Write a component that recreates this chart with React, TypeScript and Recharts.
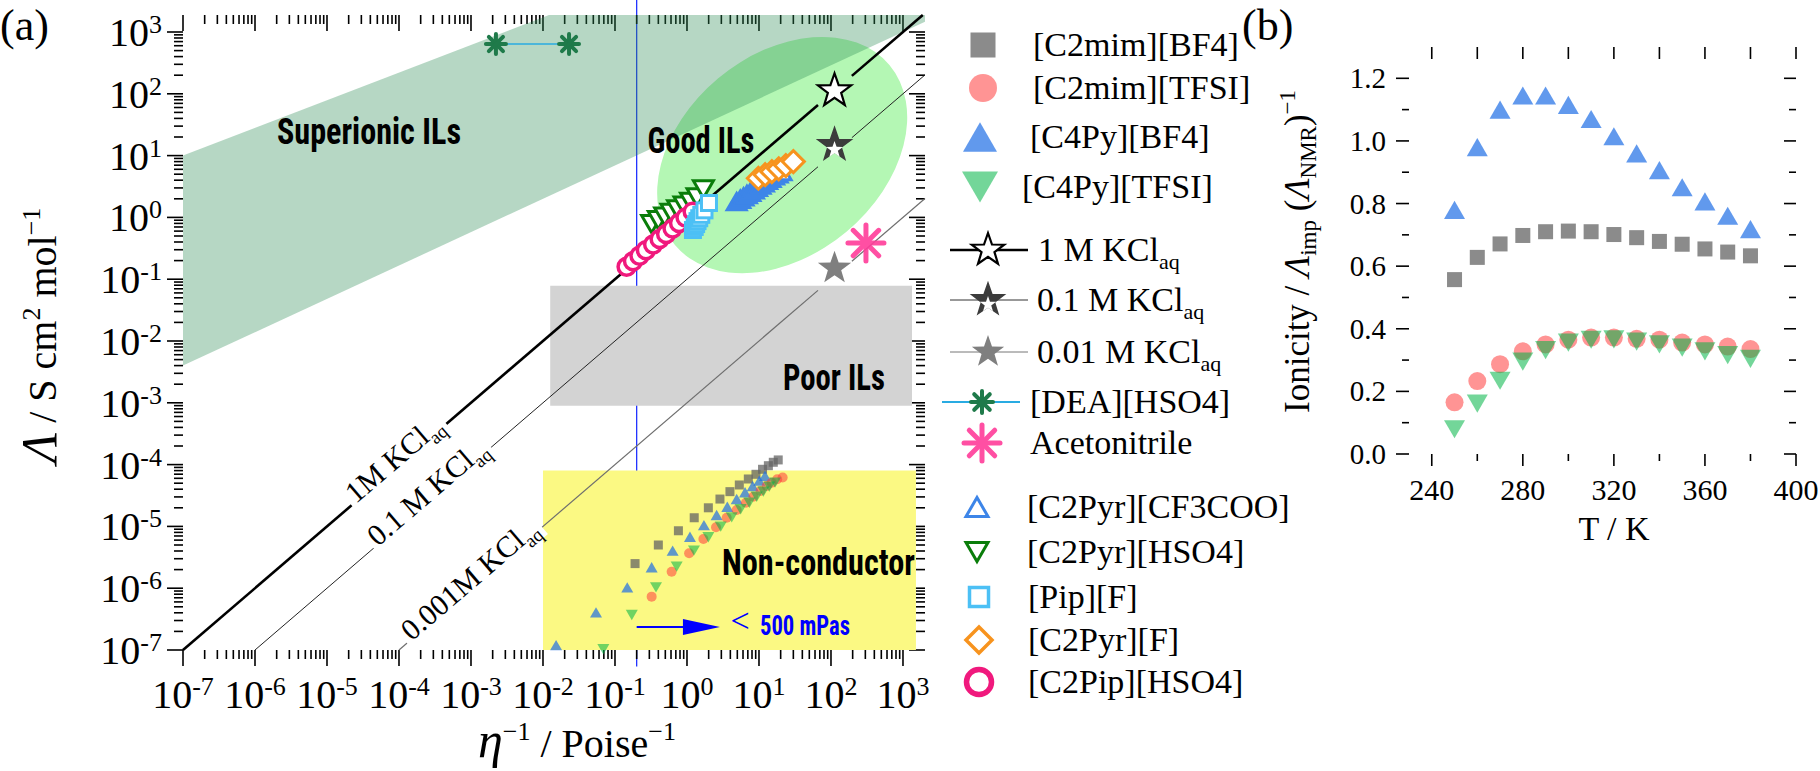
import React from 'react';
import { ComposedChart, Scatter, XAxis, YAxis, ReferenceLine } from 'recharts';

const SERIF = "'Liberation Serif', 'Times New Roman', Times, serif";
const COND = "'Roboto Condensed', 'Liberation Sans Narrow', 'DejaVu Sans Condensed', Roboto, sans-serif";

// ---------------- (a) Walden plot ----------------
const X_MIN = 1e-7;
const X_MAX = 2022;
const Y_MIN = 1e-7;
const Y_MAX = 1884;
const DECADES = [-7, -6, -5, -4, -3, -2, -1, 0, 1, 2, 3];
const MANTISSAS = [1, 2, 3, 4, 5, 6, 7, 8, 9];

// filled symbols: ILs in the non-conductor zone
const C2MIM_BF4_X = [0.19, 0.40, 0.76, 1.26, 1.98, 2.87, 3.95, 5.33, 7.11, 9.08, 11.2, 13.5, 15.8, 18.5];
const C2MIM_BF4_Y = [2.5e-6, 5.0e-6, 8.5e-6, 1.38e-5, 2.0e-5, 2.77e-5, 3.65e-5, 4.68e-5, 5.85e-5, 6.97e-5, 8.4e-5, 9.6e-5, 1.09e-4, 1.19e-4];
const C4PY_BF4_X = [0.0152, 0.0545, 0.148, 0.323, 0.632, 1.10, 1.72, 2.58, 3.63, 4.90, 6.40, 8.17, 10.1, 12.1];
const C4PY_BF4_Y = [1.2e-7, 4.07e-7, 1.03e-6, 2.18e-6, 4.05e-6, 6.8e-6, 1.05e-5, 1.53e-5, 2.08e-5, 2.77e-5, 3.56e-5, 4.5e-5, 5.5e-5, 6.6e-5];
const C2MIM_TFSI_X = [0.323, 0.612, 1.07, 1.69, 2.53, 3.56, 4.90, 6.59, 8.34, 10.5, 12.8, 15.0, 17.9, 21.3];
const C2MIM_TFSI_Y = [7.3e-7, 1.85e-6, 3.67e-6, 6.25e-6, 9.66e-6, 1.38e-5, 1.84e-5, 2.42e-5, 3.02e-5, 3.74e-5, 4.5e-5, 5.1e-5, 5.8e-5, 6.2e-5];
const C4PY_TFSI_X = [0.0689, 0.171, 0.371, 0.719, 1.25, 1.98, 2.94, 4.18, 5.56, 7.35, 9.29, 11.5, 13.9, 16.7];
const C4PY_TFSI_Y = [1.03e-7, 3.68e-7, 1.03e-6, 2.23e-6, 4.05e-6, 6.67e-6, 9.9e-6, 1.40e-5, 1.89e-5, 2.42e-5, 3.02e-5, 3.65e-5, 4.4e-5, 5.1e-5];

// open symbols: good ILs
const C2PIP_HSO4_X = [0.145, 0.178, 0.219, 0.269, 0.339, 0.417, 0.513, 0.631, 0.776, 0.955, 1.20];
const C2PIP_HSO4_Y = [0.159, 0.195, 0.240, 0.295, 0.363, 0.447, 0.537, 0.661, 0.813, 1.0, 1.24];
const C2PYR_HSO4_X = [0.323, 0.40, 0.49, 0.60, 0.74, 0.91, 1.12, 1.38, 1.69];
const C2PYR_HSO4_Y = [0.78, 0.90, 1.03, 1.18, 1.35, 1.55, 1.78, 2.1, 2.85];
const PIP_F_X = [1.21, 1.28, 1.34, 1.40, 1.48, 1.58, 1.75, 2.02];
const PIP_F_Y = [0.625, 0.70, 0.78, 0.87, 0.97, 1.10, 1.30, 1.71];
const C2PYR_CF3COO_X = [4.9, 5.5, 6.1, 6.8, 7.6, 8.5, 9.4, 10.5, 11.7, 13.0, 14.5, 16.2, 18.2, 20.6];
const C2PYR_CF3COO_Y = [1.8, 1.97, 2.15, 2.35, 2.56, 2.8, 3.06, 3.33, 3.63, 3.97, 4.3, 4.7, 5.1, 5.5];
const C2PYR_F_X = [9.8, 12.2, 15.1, 18.8, 23.6, 30];
const C2PYR_F_Y = [4.3, 4.9, 5.5, 6.1, 6.9, 8.0];

// reference liquids
const KCL_1M = [{ x: 112, y: 112 }];
const KCL_01M = [{ x: 112, y: 14.8 }];
const KCL_001M = [{ x: 112, y: 0.151 }];
const ACETONITRILE = [{ x: 306, y: 0.385 }];
const DEA_HSO4_X = [0.00222, 0.023];
const DEA_HSO4_Y = [640, 640];

// KCl(aq) ideal lines, split where the reference stars sit
const LINE_1M = [[{ x: 1e-7, y: 1e-7 }, { x: 66, y: 66 }], [{ x: 195, y: 195 }, { x: 1884, y: 1884 }]];
const LINE_01M = [[{ x: 1e-6, y: 1e-7 }, { x: 66, y: 6.6 }], [{ x: 195, y: 19.5 }, { x: 2022, y: 202.2 }]];
const LINE_0001M = [[{ x: 1e-4, y: 1e-7 }, { x: 66, y: 0.066 }], [{ x: 195, y: 0.195 }, { x: 2022, y: 2.022 }]];

// classification zones
const SUPERIONIC_BAND = [
  { x: 1e-7, y: 10 }, { x: 0.0121, y: 1884 }, { x: 2022, y: 1884 }, { x: 2022, y: 1462 }, { x: 1e-7, y: 4e-3 },
];
const POOR_BOX = { x1: 0.0126, x2: 1334, y1: 9e-4, y2: 0.078 };
const NONCOND_BOX = { x1: 0.01, x2: 1514, y1: 1e-7, y2: 8e-5 };
const GOOD_CENTER = [{ x: 21, y: 10.2 }];
const ETA_LIMIT = 0.2;
const ARROW_Y = 2.36e-7;

// ---------------- (b) ionicity ----------------
const T_MIN = 230;
const T_MAX = 400;
const I_MAX = 1.3;
const TEMPS = [250, 260, 270, 280, 290, 300, 310, 320, 330, 340, 350, 360, 370, 380];
const ION_C4PY_BF4 = [0.78, 0.98, 1.10, 1.145, 1.145, 1.115, 1.07, 1.015, 0.96, 0.907, 0.852, 0.807, 0.761, 0.718];
const ION_C2MIM_BF4 = [0.557, 0.628, 0.671, 0.698, 0.710, 0.712, 0.71, 0.701, 0.691, 0.679, 0.670, 0.655, 0.645, 0.633];
const ION_C2MIM_TFSI = [0.165, 0.233, 0.287, 0.328, 0.35, 0.365, 0.372, 0.372, 0.368, 0.365, 0.356, 0.35, 0.343, 0.335];
const ION_C4PY_TFSI = [0.079, 0.161, 0.234, 0.295, 0.332, 0.356, 0.365, 0.366, 0.359, 0.35, 0.34, 0.328, 0.316, 0.304];
const T_TICKS = [240, 260, 280, 300, 320, 340, 360, 380, 400];
const T_LABELS = [240, 280, 320, 360, 400];
const I_TICKS = [0, 0.1, 0.2, 0.3, 0.4, 0.5, 0.6, 0.7, 0.8, 0.9, 1.0, 1.1, 1.2];
const I_LABELS = [0, 0.2, 0.4, 0.6, 0.8, 1.0, 1.2];

const LOG_MAJOR = DECADES.map((e) => Math.pow(10, e));
const LOG_ALL = DECADES.flatMap((e) => MANTISSAS.map((m) => m * Math.pow(10, e))).filter((v) => v <= 1000.001);

// plot frames in page pixels; chart margins are derived from these
const CHART_A = { left: 0, width: 960, height: 771 };
const FRAME_A = { left: 183, right: 925, top: 15, bottom: 650 };
const CHART_B = { left: 1330, width: 490, height: 560 };
const FRAME_B = { left: 1409, right: 1796, top: 47, bottom: 454 };

const pairs = (xs: number[], ys: number[]) => xs.map((x, i) => ({ x, y: ys[i] }));
const tPairs = (vs: number[]) => TEMPS.map((T, i) => ({ T, v: vs[i] }));
const boxPts = (b: any) => [
  { x: b.x1, y: b.y1 }, { x: b.x2, y: b.y1 }, { x: b.x2, y: b.y2 }, { x: b.x1, y: b.y2 },
];

// symbol colours
const GRAY = { fill: '#646464', op: 0.75 };
const PINK = { fill: '#ff3c3c', op: 0.55 };
const BLUE = { fill: '#1e6ee6', op: 0.7 };
const GREEN = { fill: '#00b446', op: 0.55 };

const starPoints = (cx: number, cy: number, r: number) => {
  const pts: string[] = [];
  for (let i = 0; i < 10; i++) {
    const rad = i % 2 === 0 ? r : r * 0.4;
    const a = -Math.PI / 2 + (i * Math.PI) / 5;
    pts.push(`${cx + rad * Math.cos(a)},${cy + rad * Math.sin(a)}`);
  }
  return pts.join(' ');
};

const Mark = ({ kind, cx, cy, s, fill = 'none', stroke = 'none', sw = 0, op = 1 }: any) => {
  const h = s / 2;
  const st = { fill, stroke, strokeWidth: sw, opacity: op };
  const th = (s * 0.866) / 2;
  switch (kind) {
    case 'square':
      return <rect x={cx - h} y={cy - h} width={s} height={s} {...st} />;
    case 'circle':
      return <circle cx={cx} cy={cy} r={h} {...st} />;
    case 'tri':
      return <polygon points={`${cx},${cy - th} ${cx + h},${cy + th} ${cx - h},${cy + th}`} {...st} />;
    case 'dtri':
      return <polygon points={`${cx},${cy + th} ${cx + h},${cy - th} ${cx - h},${cy - th}`} {...st} />;
    case 'diamond':
      return <polygon points={`${cx},${cy - h} ${cx + h},${cy} ${cx},${cy + h} ${cx - h},${cy}`} {...st} />;
    case 'star':
      return <polygon points={starPoints(cx, cy, h)} {...st} strokeLinejoin="miter" />;
    case 'star2':
      return (
        <g>
          <polygon points={starPoints(cx, cy, h)} fill="#3c3c3c" stroke="#3c3c3c" strokeWidth={1.5} />
          <polygon points={starPoints(cx, cy + s * 0.13, h * 0.5)} fill="#fff" />
        </g>
      );
    case 'aster':
      return (
        <g stroke={stroke} strokeWidth={sw} opacity={op} strokeLinecap="round">
          {[0, 45, 90, 135].map((a) => {
            const r = (a * Math.PI) / 180;
            return (
              <line key={a} x1={cx - h * Math.cos(r)} y1={cy - h * Math.sin(r)} x2={cx + h * Math.cos(r)} y2={cy + h * Math.sin(r)} />
            );
          })}
        </g>
      );
    default:
      return null;
  }
};

const shapeOf = (kind: string, s: number, style: any) => (p: any) => (
  <Mark kind={kind} cx={p.cx} cy={p.cy} s={s} {...style} />
);
const NO_MARK = () => <g />;
const NO_TICK = () => <g />;
const fillPoly = (fill: string, op: number) => (p: any) => (
  <polygon points={p.points.map((q: any) => `${q.x},${q.y}`).join(' ')} fill={fill} fillOpacity={op} stroke="none" />
);

const isDecade = (v: number) => Math.abs(Math.log10(v) - Math.round(Math.log10(v))) < 1e-6;
const inList = (list: number[]) => (v: number) => list.some((m) => Math.abs(m - v) < 1e-9);

// Frame ticks come from reference lines: the shape receives the full-height
// (or full-width) line and keeps a short stub at each frame edge.
const vTick = (outLen: number, inLen: number) => (p: any) => {
  const bot = Math.max(p.y1, p.y2);
  const top = Math.min(p.y1, p.y2);
  return (
    <g stroke="#000" strokeWidth={1.6}>
      <line x1={p.x1} x2={p.x1} y1={bot} y2={bot + outLen} />
      <line x1={p.x1} x2={p.x1} y1={top} y2={top + inLen} />
    </g>
  );
};
const hTick = (outLen: number, inLen: number) => (p: any) => {
  const left = Math.min(p.x1, p.x2);
  const right = Math.max(p.x1, p.x2);
  return (
    <g stroke="#000" strokeWidth={1.6}>
      <line x1={left} x2={left - outLen} y1={p.y1} y2={p.y1} />
      <line x1={right} x2={right - inLen} y1={p.y1} y2={p.y1} />
    </g>
  );
};

const AXIS = { stroke: '#000', strokeWidth: 2 };

const noteShape = (text: string, w: number, size: number, color: string) => (p: any) => (
  <text
    x={p.cx}
    y={p.cy + size * 0.355}
    textAnchor="middle"
    fontFamily={COND}
    fontWeight={700}
    fontSize={size}
    fill={color}
    textLength={w}
    lengthAdjust="spacingAndGlyphs"
  >
    {text}
  </text>
);

// rotated line label with a white backing box
const lineLabel = (main: string, w: number) => (p: any) => (
  <g transform={`rotate(-40.6 ${p.cx} ${p.cy})`}>
    <rect x={p.cx - w / 2 - 4} y={p.cy - 24} width={w + 8} height={33} fill="#fff" />
    <text x={p.cx} y={p.cy + 2} textAnchor="middle" fontFamily={SERIF} fontSize={30} fill="#000">
      {main}
      <tspan dy={7} fontSize={19}>aq</tspan>
    </text>
  </g>
);

const arrowHead = (p: any) => (
  <polygon points={`${p.cx},${p.cy} ${p.cx - 37},${p.cy - 8} ${p.cx - 37},${p.cy + 8}`} fill="#0000ff" />
);

const logX = { dataKey: 'x', type: 'number' as const, scale: 'log' as const, domain: [X_MIN, X_MAX], interval: 0 };
const logY = { dataKey: 'y', type: 'number' as const, scale: 'log' as const, domain: [Y_MIN, Y_MAX], interval: 0 };
const XY = { xAxisId: 'xb', yAxisId: 'yl', isAnimationActive: false };
const REF_A = { xAxisId: 'xb', yAxisId: 'yl', ifOverflow: 'visible' as const };

const MARGIN_A = {
  top: FRAME_A.top,
  right: CHART_A.width - FRAME_A.right,
  bottom: CHART_A.height - FRAME_A.bottom,
  left: FRAME_A.left - CHART_A.left,
};

// the axes only draw the frame
const WaldenPlot = () => (
  <ComposedChart width={CHART_A.width} height={CHART_A.height} margin={MARGIN_A}>
    <XAxis xAxisId="xb" {...logX} ticks={LOG_MAJOR} height={0} tickSize={16} tickMargin={0} tickLine={false}
      axisLine={AXIS} tick={NO_TICK} />
    <XAxis xAxisId="xt" {...logX} orientation="top" ticks={LOG_MAJOR} height={0} tick={false} tickLine={false} axisLine={AXIS} />
    <YAxis yAxisId="yl" {...logY} ticks={LOG_MAJOR} width={0} tickSize={16} tickMargin={0} tickLine={false}
      axisLine={AXIS} tick={NO_TICK} />
    <YAxis yAxisId="yr" {...logY} orientation="right" ticks={LOG_MAJOR} width={0} tick={false} tickLine={false} axisLine={AXIS} />

    {/* zones */}
    <Scatter {...XY} data={GOOD_CENTER}
      shape={(p: any) => (
        <ellipse cx={p.cx} cy={p.cy} rx={140} ry={100} transform={`rotate(-40 ${p.cx} ${p.cy})`} fill="#b4f7b4" />
      )} />
    <Scatter {...XY} data={SUPERIONIC_BAND} shape={NO_MARK} line={fillPoly('#2e8b57', 0.35)} />
    <Scatter {...XY} data={boxPts(POOR_BOX)} shape={NO_MARK} line={fillPoly('#d3d3d3', 1)} />
    <Scatter {...XY} data={boxPts(NONCOND_BOX)} shape={NO_MARK} line={fillPoly('#fbf983', 1)} />

    {/* KCl lines */}
    {LINE_1M.map((seg, i) => (
      <Scatter key={`l1-${i}`} {...XY} data={seg} shape={NO_MARK} line={{ stroke: '#000', strokeWidth: 2.6 }} />
    ))}
    {LINE_01M.map((seg, i) => (
      <Scatter key={`l2-${i}`} {...XY} data={seg} shape={NO_MARK} line={{ stroke: '#222', strokeWidth: 1 }} />
    ))}
    {LINE_0001M.map((seg, i) => (
      <Scatter key={`l3-${i}`} {...XY} data={seg} shape={NO_MARK} line={{ stroke: '#6e6e6e', strokeWidth: 1.2 }} />
    ))}
    <Scatter {...XY} data={[{ x: 1e-4, y: 1e-4 }]} shape={lineLabel('1M KCl', 117)} />
    <Scatter {...XY} data={[{ x: 2.9e-4, y: 2.9e-5 }]} shape={lineLabel('0.1 M KCl', 147)} />
    <Scatter {...XY} data={[{ x: 1.12e-3, y: 1.12e-6 }]} shape={lineLabel('0.001M KCl', 170)} />

    {/* non-conductor ILs */}
    <Scatter {...XY} data={pairs(C2MIM_BF4_X, C2MIM_BF4_Y)} shape={shapeOf('square', 9, GRAY)} />
    <Scatter {...XY} data={pairs(C4PY_BF4_X, C4PY_BF4_Y)} shape={shapeOf('tri', 12, BLUE)} />
    <Scatter {...XY} data={pairs(C2MIM_TFSI_X, C2MIM_TFSI_Y)} shape={shapeOf('circle', 10, PINK)} />
    <Scatter {...XY} data={pairs(C4PY_TFSI_X, C4PY_TFSI_Y)} shape={shapeOf('dtri', 12, GREEN)} />

    {/* good ILs */}
    <Scatter {...XY} data={pairs(C2PYR_HSO4_X, C2PYR_HSO4_Y)}
      shape={shapeOf('dtri', 20, { fill: '#fff', stroke: '#0a7d0a', sw: 3 })} />
    <Scatter {...XY} data={pairs(C2PIP_HSO4_X, C2PIP_HSO4_Y)}
      shape={shapeOf('circle', 17, { fill: '#fff', stroke: '#f0197d', sw: 3.5 })} />
    <Scatter {...XY} data={pairs(PIP_F_X, PIP_F_Y)}
      shape={shapeOf('square', 15, { fill: '#fff', stroke: '#4cc0f5', sw: 3 })} />
    <Scatter {...XY} data={pairs(C2PYR_CF3COO_X, C2PYR_CF3COO_Y)}
      shape={shapeOf('tri', 19, { fill: '#fff', stroke: '#3d85e8', sw: 3 })} />
    <Scatter {...XY} data={pairs(C2PYR_F_X, C2PYR_F_Y)}
      shape={shapeOf('diamond', 22, { fill: '#fff', stroke: '#f7931e', sw: 3 })} />

    {/* reference liquids */}
    <Scatter {...XY} data={pairs(DEA_HSO4_X, DEA_HSO4_Y)} line={{ stroke: '#29abe2', strokeWidth: 1.6 }}
      shape={shapeOf('aster', 20, { stroke: '#1f7a4a', sw: 4 })} />
    <Scatter {...XY} data={KCL_1M} shape={shapeOf('star', 35, { fill: '#fff', stroke: '#000', sw: 2.2 })} />
    <Scatter {...XY} data={KCL_01M} shape={shapeOf('star2', 35, {})} />
    <Scatter {...XY} data={KCL_001M} shape={shapeOf('star', 35, { fill: '#7f7f7f' })} />
    <Scatter {...XY} data={ACETONITRILE} shape={shapeOf('aster', 36, { stroke: '#ff3d9a', sw: 5, op: 0.9 })} />

    {/* zone names */}
    <Scatter {...XY} data={[{ x: 3.83e-5, y: 25 }]} shape={noteShape('Superionic ILs', 184, 36, '#000')} />
    <Scatter {...XY} data={[{ x: 1.56, y: 17.9 }]} shape={noteShape('Good ILs', 107, 36, '#000')} />
    <Scatter {...XY} data={[{ x: 110, y: 2.67e-3 }]} shape={noteShape('Poor ILs', 102, 37, '#000')} />
    <Scatter {...XY} data={[{ x: 67, y: 2.7e-6 }]} shape={noteShape('Non-conductor', 193, 37, '#000')} />

    {/* 500 mPa s viscosity limit */}
    <ReferenceLine {...REF_A} segment={[{ x: ETA_LIMIT, y: 5.4e-8 }, { x: ETA_LIMIT, y: 3300 }]}
      stroke="#2233ff" strokeWidth={1.3} />
    <Scatter {...XY} data={[{ x: ETA_LIMIT, y: ARROW_Y }, { x: 0.9, y: ARROW_Y }]} shape={NO_MARK}
      line={{ stroke: '#0000ff', strokeWidth: 2 }} />
    <Scatter {...XY} data={[{ x: 2.87, y: ARROW_Y }]} shape={arrowHead} />
    <Scatter {...XY} data={[{ x: 5.45, y: 2.89e-7 }]}
      shape={(p: any) => (
        <text x={p.cx} y={p.cy + 10} textAnchor="middle" fontFamily={SERIF} fontSize={34} fill="#0000ff">&lt;</text>
      )} />
    <Scatter {...XY} data={[{ x: 43.5, y: 2.54e-7 }]} shape={noteShape('500 mPas', 90, 28, '#0000ff')} />

    {/* frame ticks: outward on bottom/left, inward on top/right */}
    {LOG_ALL.map((v) => {
      const len = isDecade(v) ? 16 : 9;
      return <ReferenceLine key={`tx-${v}`} {...REF_A} x={v} shape={vTick(len, len)} />;
    })}
    {LOG_ALL.map((v) => {
      const len = isDecade(v) ? 16 : 9;
      return <ReferenceLine key={`ty-${v}`} {...REF_A} y={v} shape={hTick(len, len)} />;
    })}
  </ComposedChart>
);

const linT = { dataKey: 'T', type: 'number' as const, domain: [T_MIN, T_MAX], interval: 0 };
const linI = { dataKey: 'v', type: 'number' as const, domain: [0, I_MAX], interval: 0 };
const TV = { xAxisId: 'tb', yAxisId: 'il', isAnimationActive: false };
const REF_B = { xAxisId: 'tb', yAxisId: 'il', ifOverflow: 'visible' as const };
const isTLabel = inList(T_LABELS);
const isILabel = inList(I_LABELS);

const MARGIN_B = {
  top: FRAME_B.top,
  right: CHART_B.left + CHART_B.width - FRAME_B.right,
  bottom: CHART_B.height - FRAME_B.bottom,
  left: FRAME_B.left - CHART_B.left,
};

const IonicityPlot = () => (
  <ComposedChart width={CHART_B.width} height={CHART_B.height} margin={MARGIN_B}>
    <XAxis xAxisId="tb" {...linT} ticks={T_LABELS} height={0} tickSize={12} tickMargin={0} tickLine={false}
      axisLine={AXIS} tick={NO_TICK} />
    <XAxis xAxisId="tt" {...linT} orientation="top" ticks={T_TICKS} height={0} tick={false} tickLine={false} axisLine={AXIS} />
    <YAxis yAxisId="il" {...linI} ticks={I_LABELS} width={0} tickSize={13} tickMargin={0} tickLine={false}
      axisLine={AXIS} tick={NO_TICK} />
    <YAxis yAxisId="ir" {...linI} orientation="right" ticks={I_TICKS} width={0} tick={false} tickLine={false} axisLine={AXIS} />
    <Scatter {...TV} data={tPairs(ION_C4PY_BF4)} shape={shapeOf('tri', 21, BLUE)} />
    <Scatter {...TV} data={tPairs(ION_C2MIM_BF4)} shape={shapeOf('square', 15, GRAY)} />
    <Scatter {...TV} data={tPairs(ION_C2MIM_TFSI)} shape={shapeOf('circle', 18, PINK)} />
    <Scatter {...TV} data={tPairs(ION_C4PY_TFSI)} shape={shapeOf('dtri', 21, GREEN)} />

    {/* frame ticks */}
    {T_TICKS.map((T) => (
      <ReferenceLine key={`tt-${T}`} {...REF_B} x={T} shape={vTick(isTLabel(T) ? 12 : 7, 12)} />
    ))}
    {I_TICKS.map((v) => (
      <ReferenceLine key={`ti-${v}`} {...REF_B} y={v} shape={hTick(isILabel(v) ? 13 : 7, isILabel(v) ? 12 : 7)} />
    ))}
  </ComposedChart>
);

// legend rows shared by both panels (x positions in page pixels)
const LEGEND_ROWS = [
  { y: 45, mx: 983, tx: 1033, kind: 'square', s: 25, style: GRAY, text: '[C2mim][BF4]' },
  { y: 88, mx: 983, tx: 1033, kind: 'circle', s: 28, style: PINK, text: '[C2mim][TFSI]' },
  { y: 137, mx: 980, tx: 1030, kind: 'tri', s: 34, style: BLUE, text: '[C4Py][BF4]' },
  { y: 187, mx: 980, tx: 1022, kind: 'dtri', s: 36, style: GREEN, text: '[C4Py][TFSI]' },
  { y: 250, mx: 988, tx: 1038, kind: 'star', s: 34, style: { fill: '#fff', stroke: '#000', sw: 2.2 }, text: '1 M KCl', sub: 'aq', line: { x1: 950, x2: 1028, stroke: '#000', sw: 2.5 } },
  { y: 300, mx: 988, tx: 1037, kind: 'star2', s: 34, style: {}, text: '0.1 M KCl', sub: 'aq', line: { x1: 950, x2: 1028, stroke: '#333', sw: 1 } },
  { y: 352, mx: 988, tx: 1037, kind: 'star', s: 34, style: { fill: '#7f7f7f' }, text: '0.01 M KCl', sub: 'aq', line: { x1: 950, x2: 1028, stroke: '#777', sw: 1 } },
  { y: 402, mx: 982, tx: 1030, kind: 'aster', s: 22, style: { stroke: '#1f7a4a', sw: 4 }, text: '[DEA][HSO4]', line: { x1: 942, x2: 1020, stroke: '#29abe2', sw: 2 } },
  { y: 443, mx: 982, tx: 1030, kind: 'aster', s: 36, style: { stroke: '#ff3d9a', sw: 5, op: 0.9 }, text: 'Acetonitrile' },
  { y: 507, mx: 977, tx: 1027, kind: 'tri', s: 22, style: { fill: '#fff', stroke: '#3d85e8', sw: 3 }, text: '[C2Pyr][CF3COO]' },
  { y: 552, mx: 977, tx: 1027, kind: 'dtri', s: 22, style: { fill: '#fff', stroke: '#0a7d0a', sw: 3 }, text: '[C2Pyr][HSO4]' },
  { y: 597, mx: 979, tx: 1028, kind: 'square', s: 19, style: { fill: '#fff', stroke: '#4cc0f5', sw: 3.5 }, text: '[Pip][F]' },
  { y: 640, mx: 979, tx: 1028, kind: 'diamond', s: 26, style: { fill: '#fff', stroke: '#f7931e', sw: 3.5 }, text: '[C2Pyr][F]' },
  { y: 682, mx: 979, tx: 1028, kind: 'circle', s: 25, style: { fill: '#fff', stroke: '#f0197d', sw: 5.5 }, text: '[C2Pip][HSO4]' },
];

const LEGEND_X0 = 930;

const LegendBlock = () => (
  <svg width={370} height={771} style={{ display: 'block' }}>
    {LEGEND_ROWS.map((r: any) => (
      <g key={r.text + r.y}>
        {r.line && (
          <line x1={r.line.x1 - LEGEND_X0} x2={r.line.x2 - LEGEND_X0} y1={r.y} y2={r.y} stroke={r.line.stroke} strokeWidth={r.line.sw} />
        )}
        <Mark kind={r.kind} cx={r.mx - LEGEND_X0} cy={r.y} s={r.s} {...r.style} />
        <text x={r.tx - LEGEND_X0} y={r.y + 11} fontFamily={SERIF} fontSize={34} fill="#000">
          {r.text}
          {r.sub && <tspan dy={8} fontSize={22}>{r.sub}</tspan>}
        </text>
      </g>
    ))}
  </svg>
);

// tick label positions follow the plot frames (log axes for (a), linear for (b))
const LOG_SPAN_X = Math.log10(X_MAX) - Math.log10(X_MIN);
const LOG_SPAN_Y = Math.log10(Y_MAX) - Math.log10(Y_MIN);
const ax = (v: number) => FRAME_A.left + ((Math.log10(v) - Math.log10(X_MIN)) / LOG_SPAN_X) * (FRAME_A.right - FRAME_A.left);
const ay = (v: number) => FRAME_A.bottom - ((Math.log10(v) - Math.log10(Y_MIN)) / LOG_SPAN_Y) * (FRAME_A.bottom - FRAME_A.top);
const bx = (T: number) => FRAME_B.left + ((T - T_MIN) / (T_MAX - T_MIN)) * (FRAME_B.right - FRAME_B.left);
const by = (v: number) => FRAME_B.bottom - (v / I_MAX) * (FRAME_B.bottom - FRAME_B.top);

const TickLabels = () => (
  <g fontFamily={SERIF} fill="#000">
    {LOG_MAJOR.map((v) => (
      <text key={`bx-${v}`} x={ax(v)} y={FRAME_A.bottom + 58} textAnchor="middle" fontSize={40}>
        10<tspan dy={-13} fontSize={26}>{Math.round(Math.log10(v))}</tspan>
      </text>
    ))}
    {LOG_MAJOR.map((v) => (
      <text key={`ly-${v}`} x={FRAME_A.left - 21} y={ay(v) + 14} textAnchor="end" fontSize={40}>
        10<tspan dy={-13} fontSize={26}>{Math.round(Math.log10(v))}</tspan>
      </text>
    ))}
    {T_LABELS.map((T) => (
      <text key={`bt-${T}`} x={bx(T)} y={FRAME_B.bottom + 46} textAnchor="middle" fontSize={30}>{T}</text>
    ))}
    {I_LABELS.map((v) => (
      <text key={`li-${v}`} x={FRAME_B.left - 23} y={by(v) + 10} textAnchor="end" fontSize={29}>{v.toFixed(1)}</text>
    ))}
  </g>
);

const Titles = () => (
  <svg width={1820} height={771} style={{ position: 'absolute', left: 0, top: 0, pointerEvents: 'none' }}>
    <TickLabels />
    <text x={0} y={40} fontFamily={SERIF} fontSize={44} fill="#000">(a)</text>
    <text x={1242} y={40} fontFamily={SERIF} fontSize={44} fill="#000">(b)</text>
    <text transform="translate(56,463) rotate(-90)" fontFamily={SERIF} fontSize={40} fill="#000">
      <tspan fontStyle="italic" fontSize={50}>Λ</tspan>
      <tspan> / S cm</tspan>
      <tspan dy={-16} fontSize={26}>2</tspan>
      <tspan dy={16}> mol</tspan>
      <tspan dy={-16} fontSize={26}>−1</tspan>
    </text>
    <text x={478} y={757} fontFamily={SERIF} fontSize={40} fill="#000">
      <tspan fontStyle="italic" fontSize={50}>η</tspan>
      <tspan dy={-17} fontSize={26}>−1</tspan>
      <tspan dy={17}> / Poise</tspan>
      <tspan dy={-17} fontSize={26}>−1</tspan>
    </text>
    <text transform="translate(1309,413) rotate(-90)" fontFamily={SERIF} fontSize={35} fill="#000">
      Ionicity / <tspan fontStyle="italic">Λ</tspan>
      <tspan dy={7} fontSize={23}>imp</tspan>
      <tspan dy={-7}> (</tspan>
      <tspan fontStyle="italic">Λ</tspan>
      <tspan dy={7} fontSize={23}>NMR</tspan>
      <tspan dy={-7}>)</tspan>
      <tspan dy={-14} fontSize={23}>−1</tspan>
    </text>
    <text x={1614} y={540} textAnchor="middle" fontFamily={SERIF} fontSize={34} fill="#000">T / K</text>
  </svg>
);

export default function App() {
  return (
    <div style={{ position: 'absolute', left: 0, top: 0, width: 1820, height: 771, background: '#fff', overflow: 'hidden' }}>
      <div style={{ position: 'absolute', left: CHART_A.left, top: 0 }}>
        <WaldenPlot />
      </div>
      <div style={{ position: 'absolute', left: LEGEND_X0, top: 0 }}>
        <LegendBlock />
      </div>
      <div style={{ position: 'absolute', left: CHART_B.left, top: 0 }}>
        <IonicityPlot />
      </div>
      <Titles />
    </div>
  );
}
